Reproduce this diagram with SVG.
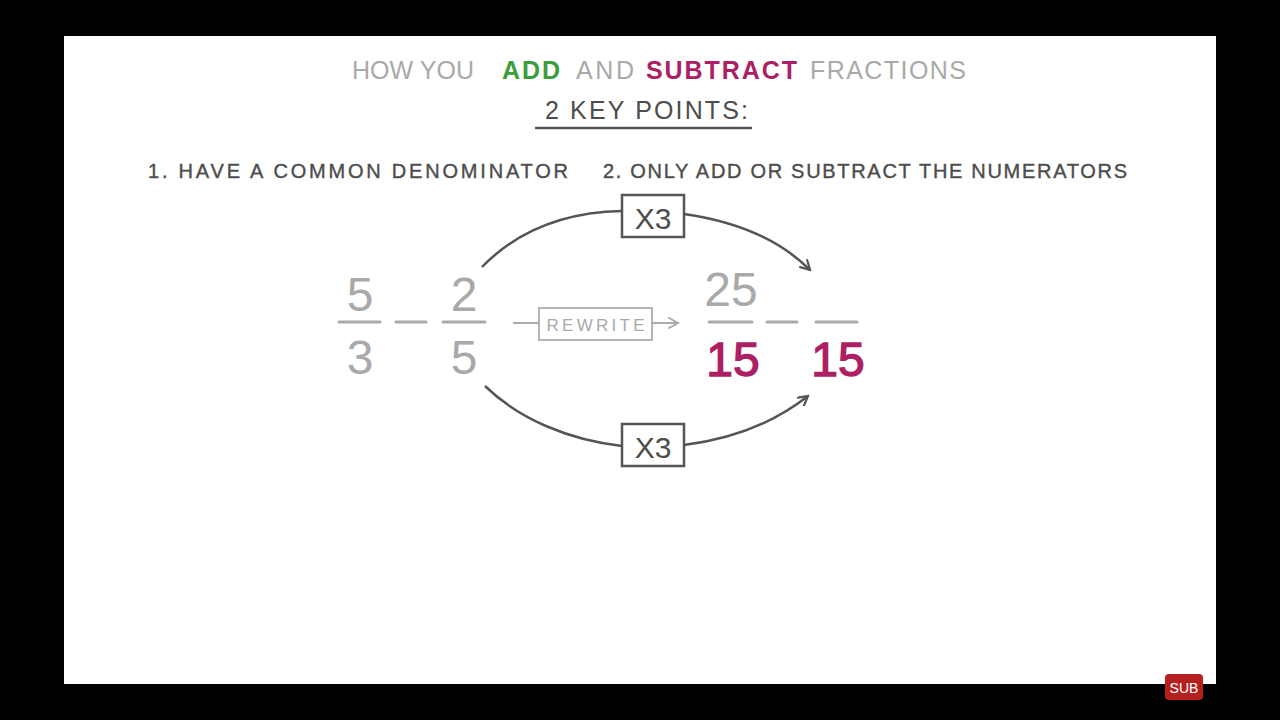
<svg xmlns="http://www.w3.org/2000/svg" width="1280" height="720" viewBox="0 0 1280 720">
<style>
.t{font-family:"Liberation Sans","DejaVu Sans",sans-serif;}
.gray{fill:#a9a9a9}
.dark{fill:#4d4d4d}
.green{fill:#3a9e3a}
.mag{fill:#ad1f64}
.num{font-size:48px;text-anchor:middle}
.mnum{stroke:#ad1f64;stroke-width:1.4}
.bar{stroke:#aaaaaa;stroke-width:3;stroke-linecap:round}
.conn{fill:none;stroke:#555;stroke-width:2.5}
.box{fill:#fff;stroke:#555;stroke-width:2.5}
</style>
<defs>
<marker id="ah" viewBox="0 0 12 12" refX="10" refY="6" markerWidth="12" markerHeight="12" markerUnits="userSpaceOnUse" orient="auto">
<path d="M1,1 L10,6 L1,11" fill="none" stroke="#555" stroke-width="2.2" stroke-linecap="round"/>
</marker>
<marker id="ahl" viewBox="0 0 12 12" refX="10" refY="6" markerWidth="12" markerHeight="12" markerUnits="userSpaceOnUse" orient="auto">
<path d="M1,1 L10,6 L1,11" fill="none" stroke="#aaa" stroke-width="2" stroke-linecap="round"/>
</marker>
</defs>
<rect x="0" y="0" width="1280" height="720" fill="#000"/>
<rect x="64" y="36" width="1152" height="648" fill="#fff"/>

<g id="title" class="t" font-size="25">
<text x="352" y="79" class="gray" textLength="122" lengthAdjust="spacing">HOW YOU</text>
<text x="502" y="79" class="green" font-weight="bold" textLength="58" lengthAdjust="spacing">ADD</text>
<text x="576" y="79" class="gray" textLength="58" lengthAdjust="spacing">AND</text>
<text x="646" y="79" class="mag" font-weight="bold" textLength="151" lengthAdjust="spacing">SUBTRACT</text>
<text x="810" y="79" class="gray" textLength="156" lengthAdjust="spacing">FRACTIONS</text>
</g>
<g id="subtitle" class="t">
<text x="545" y="119" class="dark" font-size="25" textLength="203" lengthAdjust="spacing">2 KEY POINTS:</text>
<line x1="535" y1="128" x2="752" y2="128" stroke="#555" stroke-width="2.5"/>
</g>
<g id="point1" class="t">
<text x="148" y="178" class="dark" font-size="20" stroke="#4d4d4d" stroke-width="0.4" textLength="420" lengthAdjust="spacing">1. HAVE A COMMON DENOMINATOR</text>
</g>
<g id="point2" class="t">
<text x="603" y="178" class="dark" font-size="20" stroke="#4d4d4d" stroke-width="0.4" textLength="524" lengthAdjust="spacing">2. ONLY ADD OR SUBTRACT THE NUMERATORS</text>
</g>

<g id="frac1" class="t">
<text x="360" y="311" class="gray num">5</text>
<line x1="339" y1="322" x2="380" y2="322" class="bar"/>
<text x="360" y="374" class="gray num">3</text>
</g>
<g id="minus1"><line x1="396" y1="322" x2="426" y2="322" class="bar" stroke-width="4"/></g>
<g id="frac2" class="t">
<text x="464" y="311" class="gray num">2</text>
<line x1="443" y1="322" x2="485" y2="322" class="bar"/>
<text x="464" y="374" class="gray num">5</text>
</g>
<g id="rewrite" class="t">
<rect x="539" y="308" width="113" height="32" fill="#fff" stroke="#b5b5b5" stroke-width="2"/>
<text x="595.5" y="331" class="gray" font-size="17" text-anchor="middle" textLength="98" lengthAdjust="spacing">REWRITE</text>
</g>
<g id="frac3" class="t">
<text x="731" y="306" class="gray num">25</text>
<line x1="709" y1="322" x2="752" y2="322" class="bar"/>
<text x="733" y="376" class="mag num mnum">15</text>
</g>
<g id="minus2"><line x1="767" y1="322" x2="797" y2="322" class="bar" stroke-width="4"/></g>
<g id="frac4" class="t">
<line x1="816" y1="322" x2="857" y2="322" class="bar"/>
<text x="838" y="376" class="mag num mnum">15</text>
</g>
<g id="x3top" class="t">
<rect x="622" y="195" width="62" height="42" class="box"/>
<text x="653" y="229" class="dark" font-size="30" text-anchor="middle">X3</text>
</g>
<g id="x3bottom" class="t">
<rect x="622" y="424" width="62" height="42" class="box"/>
<text x="653" y="458" class="dark" font-size="30" text-anchor="middle">X3</text>
</g>

<g id="connectors">
<line x1="513" y1="323" x2="539" y2="323" stroke="#aaa" stroke-width="2"/>
<line x1="652" y1="323" x2="678" y2="323" stroke="#aaa" stroke-width="2" marker-end="url(#ahl)"/>
<path d="M482,267 C520,228 570,212 622,211" class="conn"/>
<path d="M684,214 C740,222 780,240 810,270" class="conn" marker-end="url(#ah)"/>
<path d="M485,386 C520,420 570,440 622,446" class="conn"/>
<path d="M684,445 C740,438 780,418 808,396" class="conn" marker-end="url(#ah)"/>
</g>

<g id="sub-badge">
<rect x="1165" y="674" width="38" height="26" rx="4" fill="#b3201f"/>
<text x="1184" y="693" class="t" font-size="14" fill="#fff" text-anchor="middle">SUB</text>
</g>
</svg>
